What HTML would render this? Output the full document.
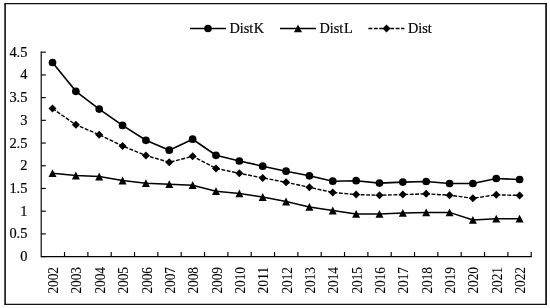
<!DOCTYPE html>
<html><head><meta charset="utf-8"><title>Chart</title>
<style>html,body{margin:0;padding:0;background:#fff;overflow:hidden}svg{display:block}</style>
</head><body>
<svg width="550" height="308" viewBox="0 0 550 308">
<rect x="0" y="0" width="550" height="308" fill="#fff"/>
<g stroke="#111" fill="none"><path d="M4.3 3.6H547" stroke-width="1.3"/><path d="M4.3 304.3H547" stroke-width="1.3"/><path d="M5.1 3.6V304.3" stroke-width="1.6"/><path d="M546.1 3.6V304.3" stroke-width="1.7"/></g>
<g stroke="#000" stroke-width="1.15" fill="none">
<path d="M41.2 51.6V256.6H531.8000000000001"/>
<path d="M41.2 256.60h4.6"/>
<path d="M41.2 233.89h4.6"/>
<path d="M41.2 211.18h4.6"/>
<path d="M41.2 188.47h4.6"/>
<path d="M41.2 165.76h4.6"/>
<path d="M41.2 143.04h4.6"/>
<path d="M41.2 120.33h4.6"/>
<path d="M41.2 97.62h4.6"/>
<path d="M41.2 74.91h4.6"/>
<path d="M41.2 52.20h4.6"/>
<path d="M64.53 256.6v-4.6"/>
<path d="M87.87 256.6v-4.6"/>
<path d="M111.20 256.6v-4.6"/>
<path d="M134.53 256.6v-4.6"/>
<path d="M157.87 256.6v-4.6"/>
<path d="M181.20 256.6v-4.6"/>
<path d="M204.53 256.6v-4.6"/>
<path d="M227.87 256.6v-4.6"/>
<path d="M251.20 256.6v-4.6"/>
<path d="M274.53 256.6v-4.6"/>
<path d="M297.87 256.6v-4.6"/>
<path d="M321.20 256.6v-4.6"/>
<path d="M344.53 256.6v-4.6"/>
<path d="M367.87 256.6v-4.6"/>
<path d="M391.20 256.6v-4.6"/>
<path d="M414.53 256.6v-4.6"/>
<path d="M437.87 256.6v-4.6"/>
<path d="M461.20 256.6v-4.6"/>
<path d="M484.53 256.6v-4.6"/>
<path d="M507.87 256.6v-4.6"/>
<path d="M531.20 256.6v-4.6"/>
</g>
<g font-family="'Liberation Serif', serif" font-size="14.4" fill="#000" stroke="#000" stroke-width="0.2" text-anchor="end">
<text x="27.4" y="261.10">0</text>
<text x="27.4" y="238.39">0.5</text>
<text x="27.4" y="215.68">1</text>
<text x="27.4" y="192.97">1.5</text>
<text x="27.4" y="170.26">2</text>
<text x="27.4" y="147.54">2.5</text>
<text x="27.4" y="124.83">3</text>
<text x="27.4" y="102.12">3.5</text>
<text x="27.4" y="79.41">4</text>
<text x="27.4" y="56.70">4.5</text>
</g>
<g font-family="'Liberation Serif', serif" font-size="14.4" fill="#000" stroke="#000" stroke-width="0.08">
<text transform="translate(58.10 293.6) rotate(-90)" textLength="26.6" lengthAdjust="spacingAndGlyphs">2002</text>
<text transform="translate(81.45 293.6) rotate(-90)" textLength="26.6" lengthAdjust="spacingAndGlyphs">2003</text>
<text transform="translate(104.81 293.6) rotate(-90)" textLength="26.6" lengthAdjust="spacingAndGlyphs">2004</text>
<text transform="translate(128.16 293.6) rotate(-90)" textLength="26.6" lengthAdjust="spacingAndGlyphs">2005</text>
<text transform="translate(151.52 293.6) rotate(-90)" textLength="26.6" lengthAdjust="spacingAndGlyphs">2006</text>
<text transform="translate(174.88 293.6) rotate(-90)" textLength="26.6" lengthAdjust="spacingAndGlyphs">2007</text>
<text transform="translate(198.23 293.6) rotate(-90)" textLength="26.6" lengthAdjust="spacingAndGlyphs">2008</text>
<text transform="translate(221.59 293.6) rotate(-90)" textLength="26.6" lengthAdjust="spacingAndGlyphs">2009</text>
<text transform="translate(244.94 293.6) rotate(-90)" textLength="26.6" lengthAdjust="spacingAndGlyphs">2010</text>
<text transform="translate(268.30 293.6) rotate(-90)" textLength="26.6" lengthAdjust="spacingAndGlyphs">2011</text>
<text transform="translate(291.65 293.6) rotate(-90)" textLength="26.6" lengthAdjust="spacingAndGlyphs">2012</text>
<text transform="translate(315.01 293.6) rotate(-90)" textLength="26.6" lengthAdjust="spacingAndGlyphs">2013</text>
<text transform="translate(338.36 293.6) rotate(-90)" textLength="26.6" lengthAdjust="spacingAndGlyphs">2014</text>
<text transform="translate(361.72 293.6) rotate(-90)" textLength="26.6" lengthAdjust="spacingAndGlyphs">2015</text>
<text transform="translate(385.07 293.6) rotate(-90)" textLength="26.6" lengthAdjust="spacingAndGlyphs">2016</text>
<text transform="translate(408.43 293.6) rotate(-90)" textLength="26.6" lengthAdjust="spacingAndGlyphs">2017</text>
<text transform="translate(431.78 293.6) rotate(-90)" textLength="26.6" lengthAdjust="spacingAndGlyphs">2018</text>
<text transform="translate(455.14 293.6) rotate(-90)" textLength="26.6" lengthAdjust="spacingAndGlyphs">2019</text>
<text transform="translate(478.49 293.6) rotate(-90)" textLength="26.6" lengthAdjust="spacingAndGlyphs">2020</text>
<text transform="translate(501.85 293.6) rotate(-90)" textLength="26.6" lengthAdjust="spacingAndGlyphs">2021</text>
<text transform="translate(525.20 293.6) rotate(-90)" textLength="26.6" lengthAdjust="spacingAndGlyphs">2022</text>
</g>
<polyline points="52.50,173.20 75.86,175.60 99.21,176.60 122.56,180.60 145.92,183.30 169.28,184.20 192.63,185.20 215.99,191.30 239.34,193.50 262.69,197.10 286.05,201.60 309.41,206.90 332.76,210.60 356.12,214.00 379.47,214.00 402.82,213.00 426.18,212.40 449.54,212.40 472.89,220.00 496.25,218.80 519.60,218.80" fill="none" stroke="#000" stroke-width="1.5" stroke-linejoin="round"/>
<path d="M52.50 169.20L56.50 177.00H48.50Z" fill="#000"/>
<path d="M75.86 171.60L79.86 179.40H71.86Z" fill="#000"/>
<path d="M99.21 172.60L103.21 180.40H95.21Z" fill="#000"/>
<path d="M122.56 176.60L126.56 184.40H118.56Z" fill="#000"/>
<path d="M145.92 179.30L149.92 187.10H141.92Z" fill="#000"/>
<path d="M169.28 180.20L173.28 188.00H165.28Z" fill="#000"/>
<path d="M192.63 181.20L196.63 189.00H188.63Z" fill="#000"/>
<path d="M215.99 187.30L219.99 195.10H211.99Z" fill="#000"/>
<path d="M239.34 189.50L243.34 197.30H235.34Z" fill="#000"/>
<path d="M262.69 193.10L266.69 200.90H258.69Z" fill="#000"/>
<path d="M286.05 197.60L290.05 205.40H282.05Z" fill="#000"/>
<path d="M309.41 202.90L313.41 210.70H305.41Z" fill="#000"/>
<path d="M332.76 206.60L336.76 214.40H328.76Z" fill="#000"/>
<path d="M356.12 210.00L360.12 217.80H352.12Z" fill="#000"/>
<path d="M379.47 210.00L383.47 217.80H375.47Z" fill="#000"/>
<path d="M402.82 209.00L406.82 216.80H398.82Z" fill="#000"/>
<path d="M426.18 208.40L430.18 216.20H422.18Z" fill="#000"/>
<path d="M449.54 208.40L453.54 216.20H445.54Z" fill="#000"/>
<path d="M472.89 216.00L476.89 223.80H468.89Z" fill="#000"/>
<path d="M496.25 214.80L500.25 222.60H492.25Z" fill="#000"/>
<path d="M519.60 214.80L523.60 222.60H515.60Z" fill="#000"/>
<polyline points="52.50,108.50 75.86,124.80 99.21,134.70 122.56,146.00 145.92,155.50 169.28,162.30 192.63,156.30 215.99,168.40 239.34,173.30 262.69,177.90 286.05,182.30 309.41,187.30 332.76,192.50 356.12,194.60 379.47,195.20 402.82,194.60 426.18,193.80 449.54,195.20 472.89,198.30 496.25,194.80 519.60,195.40" fill="none" stroke="#000" stroke-width="1.4" stroke-dasharray="3.9 1.55"/>
<path d="M52.50 104.50L56.50 108.50L52.50 112.50L48.50 108.50Z" fill="#000"/>
<path d="M75.86 120.80L79.86 124.80L75.86 128.80L71.86 124.80Z" fill="#000"/>
<path d="M99.21 130.70L103.21 134.70L99.21 138.70L95.21 134.70Z" fill="#000"/>
<path d="M122.56 142.00L126.56 146.00L122.56 150.00L118.56 146.00Z" fill="#000"/>
<path d="M145.92 151.50L149.92 155.50L145.92 159.50L141.92 155.50Z" fill="#000"/>
<path d="M169.28 158.30L173.28 162.30L169.28 166.30L165.28 162.30Z" fill="#000"/>
<path d="M192.63 152.30L196.63 156.30L192.63 160.30L188.63 156.30Z" fill="#000"/>
<path d="M215.99 164.40L219.99 168.40L215.99 172.40L211.99 168.40Z" fill="#000"/>
<path d="M239.34 169.30L243.34 173.30L239.34 177.30L235.34 173.30Z" fill="#000"/>
<path d="M262.69 173.90L266.69 177.90L262.69 181.90L258.69 177.90Z" fill="#000"/>
<path d="M286.05 178.30L290.05 182.30L286.05 186.30L282.05 182.30Z" fill="#000"/>
<path d="M309.41 183.30L313.41 187.30L309.41 191.30L305.41 187.30Z" fill="#000"/>
<path d="M332.76 188.50L336.76 192.50L332.76 196.50L328.76 192.50Z" fill="#000"/>
<path d="M356.12 190.60L360.12 194.60L356.12 198.60L352.12 194.60Z" fill="#000"/>
<path d="M379.47 191.20L383.47 195.20L379.47 199.20L375.47 195.20Z" fill="#000"/>
<path d="M402.82 190.60L406.82 194.60L402.82 198.60L398.82 194.60Z" fill="#000"/>
<path d="M426.18 189.80L430.18 193.80L426.18 197.80L422.18 193.80Z" fill="#000"/>
<path d="M449.54 191.20L453.54 195.20L449.54 199.20L445.54 195.20Z" fill="#000"/>
<path d="M472.89 194.30L476.89 198.30L472.89 202.30L468.89 198.30Z" fill="#000"/>
<path d="M496.25 190.80L500.25 194.80L496.25 198.80L492.25 194.80Z" fill="#000"/>
<path d="M519.60 191.40L523.60 195.40L519.60 199.40L515.60 195.40Z" fill="#000"/>
<polyline points="52.50,62.50 75.86,91.30 99.21,109.10 122.56,125.40 145.92,140.30 169.28,150.20 192.63,139.20 215.99,155.30 239.34,161.00 262.69,166.20 286.05,171.20 309.41,175.80 332.76,181.20 356.12,180.70 379.47,183.10 402.82,182.10 426.18,181.50 449.54,183.50 472.89,183.50 496.25,178.50 519.60,179.50" fill="none" stroke="#000" stroke-width="1.65" stroke-linejoin="round"/>
<circle cx="52.50" cy="62.50" r="3.85" fill="#000"/>
<circle cx="75.86" cy="91.30" r="3.85" fill="#000"/>
<circle cx="99.21" cy="109.10" r="3.85" fill="#000"/>
<circle cx="122.56" cy="125.40" r="3.85" fill="#000"/>
<circle cx="145.92" cy="140.30" r="3.85" fill="#000"/>
<circle cx="169.28" cy="150.20" r="3.85" fill="#000"/>
<circle cx="192.63" cy="139.20" r="3.85" fill="#000"/>
<circle cx="215.99" cy="155.30" r="3.85" fill="#000"/>
<circle cx="239.34" cy="161.00" r="3.85" fill="#000"/>
<circle cx="262.69" cy="166.20" r="3.85" fill="#000"/>
<circle cx="286.05" cy="171.20" r="3.85" fill="#000"/>
<circle cx="309.41" cy="175.80" r="3.85" fill="#000"/>
<circle cx="332.76" cy="181.20" r="3.85" fill="#000"/>
<circle cx="356.12" cy="180.70" r="3.85" fill="#000"/>
<circle cx="379.47" cy="183.10" r="3.85" fill="#000"/>
<circle cx="402.82" cy="182.10" r="3.85" fill="#000"/>
<circle cx="426.18" cy="181.50" r="3.85" fill="#000"/>
<circle cx="449.54" cy="183.50" r="3.85" fill="#000"/>
<circle cx="472.89" cy="183.50" r="3.85" fill="#000"/>
<circle cx="496.25" cy="178.50" r="3.85" fill="#000"/>
<circle cx="519.60" cy="179.50" r="3.85" fill="#000"/>
<g stroke="#000" fill="none" stroke-width="1.45">
<path d="M190 28.55H226"/>
<path d="M280 28.55H316"/>
<path d="M368.4 28.55H404.4" stroke-width="1.4" stroke-dasharray="3.9 1.55"/>
</g>
<circle cx="208" cy="28.55" r="3.8" fill="#000"/>
<path d="M298.00 24.55L302.00 32.35H294.00Z" fill="#000"/>
<path d="M386.50 24.55L390.50 28.55L386.50 32.55L382.50 28.55Z" fill="#000"/>
<g font-family="'Liberation Serif', serif" font-size="14.8" fill="#000" stroke="#000" stroke-width="0.2">
<text transform="translate(229.5 32.7) scale(0.967 1)">Dist<tspan dx="0.5">K</tspan></text>
<text transform="translate(319.5 32.7) scale(0.967 1)">Dist<tspan dx="0.6">L</tspan></text>
<text transform="translate(408.0 32.7) scale(0.967 1)">Dist</text>
</g>
</svg>
</body></html>
